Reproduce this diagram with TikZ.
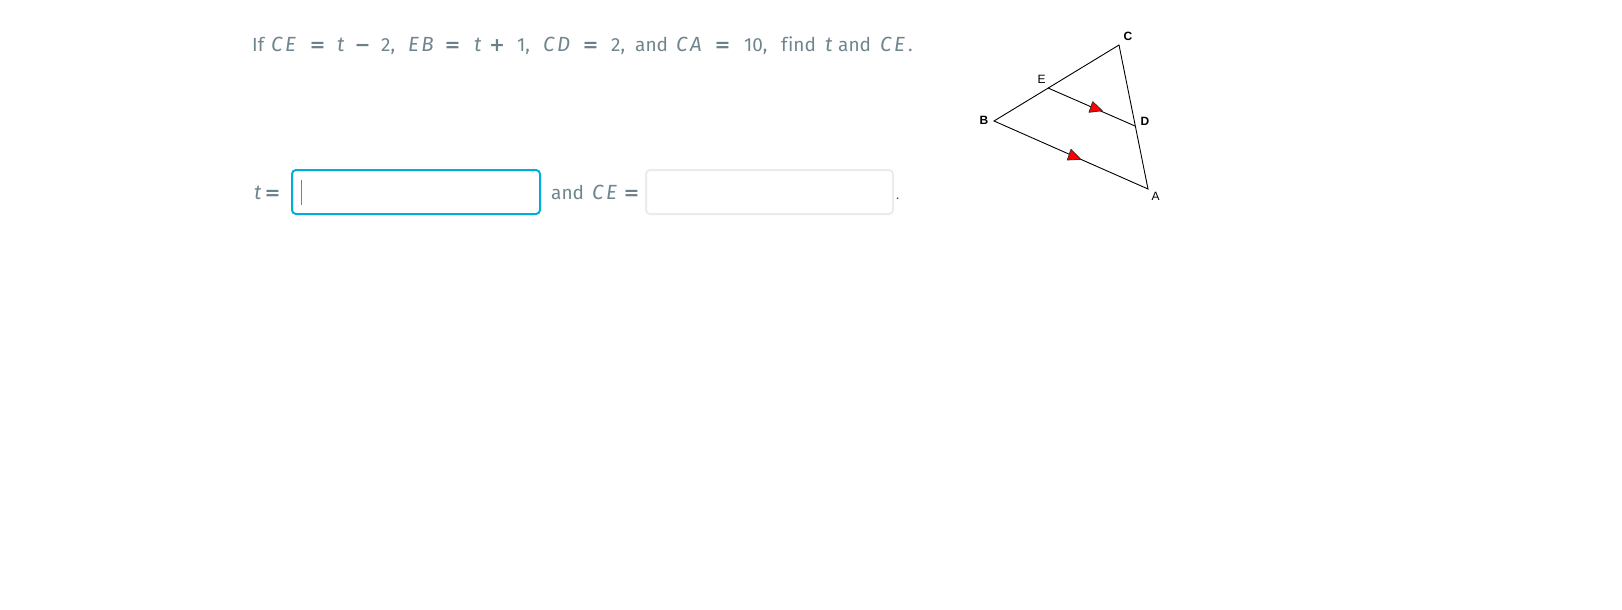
\documentclass[tikz,border=0pt]{standalone}
\usepackage{fontspec}
\setmainfont{Fira Sans}
\newfontfamily\mathv{Fira Sans}[LetterSpace=12]
\newfontfamily\ptfont{Liberation Sans}
\newfontfamily\symfont{DejaVu Sans}
\definecolor{txt}{HTML}{6F858E}
\definecolor{sym}{HTML}{6A808A}
\definecolor{act}{HTML}{00AEDB}
\definecolor{idle}{HTML}{EBEBEB}
\tikzset{
  lab/.style={anchor=base west,inner sep=0pt,text=txt,font=\fontsize{19}{22}\selectfont},
  var/.style={lab,font=\fontsize{20.5}{22}\selectfont\mathv\itshape},
  sym/.style={lab,text=sym,font=\fontsize{19}{22}\selectfont\symfont\bfseries},
  pt/.style={anchor=center,inner sep=0pt,text=black,font=\fontsize{12}{14}\selectfont\ptfont},
  ptb/.style={pt,font=\fontsize{12}{14}\selectfont\ptfont\bfseries},
  ans/.style={rounded corners=4pt,line width=2pt,fill=white},
  seg/.style={draw=black,line width=0.9pt},
  flag/.style={draw=black!80,fill=red,line width=0.8pt,line join=round}
}
\begin{document}
\begin{tikzpicture}[x=1pt,y=-1pt]
\useasboundingbox (0,0) rectangle (1622,610);
\node[lab] (a1) at (252,52) {If};
\node[var] (a2) at (271,52) {CE};
\node[sym] (a3) at (309.5,52) {=};
\node[var] (a4) at (337,52) {t};
\node[sym] (a5) at (354.5,52) {−};
\node[lab] (a6) at (381,52) {2,};
\node[var] (a7) at (408,52) {EB};
\node[sym] (a8) at (444.5,52) {=};
\node[var] (a9) at (474,52) {t};
\node[sym] (a10) at (489,52) {+};
\node[lab] (a11) at (517,52) {1,};
\node[var] (a12) at (543,52) {CD};
\node[sym] (a13) at (582.5,52) {=};
\node[lab] (a14) at (611,52) {2,};
\node[lab] (a15) at (635,52) {and};
\node[var] (a16) at (676,52) {CA};
\node[sym] (a17) at (714.5,52) {=};
\node[lab] (a18) at (744,52) {10,};
\node[lab] (a19) at (781,52) {f\kern0.5pt ind};
\node[var] (a20) at (825,52) {t};
\node[lab] (a21) at (838,52) {and};
\node[var] (a22) at (880,52) {CE};
\node[lab] (a23) at (908,52) {.};
\node[var] (b1) at (254,199) {t};
\node[sym] (b2) at (264.5,199) {=};
\draw[ans,draw=act] (292,170) rectangle (540,214);
\draw[txt,line width=0.7pt] (301.5,180) -- (301.5,205);
\node[lab] (b3) at (551,199) {and};
\node[var] (b4) at (592,199) {CE};
\node[sym] (b5) at (623.5,199) {=};
\draw[ans,draw=idle] (646,170) rectangle (893,214);
\node[lab,font=\fontsize{13}{13}\selectfont,text=sym!70!black] (b6) at (896,199) {.};
\coordinate (B) at (994,121);
\coordinate (C) at (1119,45);
\coordinate (A) at (1148,189);
\coordinate (E) at (1048,88);
\coordinate (D) at (1135,126);
\draw[seg] (B)--(C)--(A)--cycle;
\draw[seg] (E)--(D);
\draw[flag] (1092.7,101.7)--(1102.3,110.7)--(1089,112.3)--cycle;
\draw[flag] (1071,149.3)--(1080.7,159.3)--(1067.3,160)--cycle;
\node[ptb] (lc) at (1128,36.5) {C};
\node[pt] (le) at (1041.5,79.5) {E};
\node[ptb] (lb) at (984,120.5) {B};
\node[ptb] (ld) at (1145,121.5) {D};
\node[pt] (la) at (1155.7,196.5) {A};
\end{tikzpicture}
\end{document}
